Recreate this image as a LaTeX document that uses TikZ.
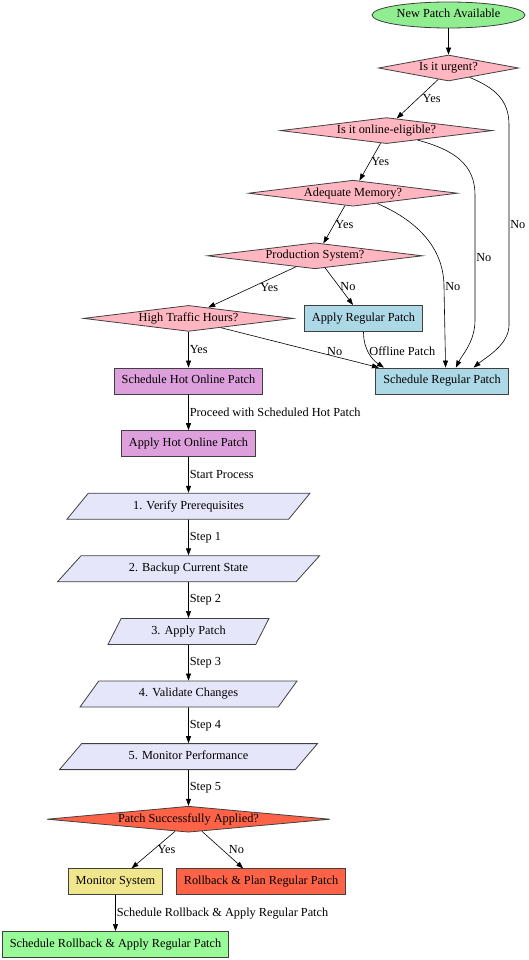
\documentclass[tikz,border=0pt]{standalone}
\usepackage{fontspec}
\setmainfont{Liberation Serif}
\usetikzlibrary{shapes.geometric,arrows.meta,positioning}
\definecolor{lgreen}{HTML}{90EE90}
\definecolor{lpink}{HTML}{FFB6C1}
\definecolor{lblue}{HTML}{ADD8E6}
\definecolor{lplum}{HTML}{DDA0DD}
\definecolor{lav}{HTML}{E6E6FA}
\definecolor{ltomato}{HTML}{FF6347}
\definecolor{lkhaki}{HTML}{F0E68C}
\definecolor{pgreen}{HTML}{98FB98}

\begin{document}
\begin{tikzpicture}[x=1pt,y=1pt,node distance=62.6pt]
    \tikzset{every node/.style={font=\fontsize{12.3}{14}\selectfont},
        box/.style={draw=black!75,line width=0.8pt,minimum height=26pt,inner
        sep=0pt,text height=8.5pt,text depth=2.6pt},term/.style={box,ellipse,fill=lgreen,minimum
        width=153pt},quest/.style={box,diamond,fill=lpink},act/.style={box,rectangle,inner
        xsep=7.5pt},stage/.style 2 args={box,trapezium,trapezium left angle=#1,trapezium right
        angle=#2,trapezium stretches body,fill=lav},flow/.style={->,>={Triangle[length=7pt,width=5pt]},line
        width=0.6pt},lbl/.style={inner sep=1pt}}
    \useasboundingbox (0,0) rectangle (528,-960);

    \node[term] (start) at (448.5,-15) {New Patch Available};
    \node[quest,minimum width=140pt,aspect=5.4] (d1) [below of=start,node distance=53pt] {Is it urgent?};
    \node[quest,minimum width=212pt,aspect=8.15] (d2) [below of=d1,xshift=-62pt] {Is it online-eligible?};
    \node[quest,minimum width=209pt,aspect=8] (d3) [below of=d2,xshift=-33.5pt] {Adequate Memory?};
    \node[quest,minimum width=215pt,aspect=8.3] (d4) [below of=d3,xshift=-38pt] {Production System?};
    \node[quest,minimum width=210pt,aspect=8.1] (d5) [below of=d4,xshift=-126.5pt] {High Traffic Hours?};
    \node[act,fill=lblue] (arp) [below of=d4,xshift=48.5pt] {Apply Regular Patch};
    \node[act,fill=lblue] (srp) [below of=arp,xshift=78.5pt] {Schedule Regular Patch};
    \node[act,fill=lplum] (shop) [below of=d5] {Schedule Hot Online Patch};
    \node[act,fill=lplum] (ahop) [below of=shop] {Apply Hot Online Patch};
    \node[stage={27.5}{152.5},minimum width=243pt] (p1) [below of=ahop] {1. Verify Prerequisites};
    \node[stage={25.3}{154.7},minimum width=262pt] (p2) [below of=p1] {2. Backup Current State};
    \node[stage={40}{140},minimum width=161pt] (p3) [below of=p2] {3. Apply Patch};
    \node[stage={30.6}{149.4},minimum width=217pt] (p4) [below of=p3] {4. Validate Changes};
    \node[stage={26.6}{153.4},minimum width=258pt] (p5) [below of=p4] {5. Monitor Performance};
    \node[quest,minimum width=283pt,aspect=10.9,fill=ltomato] (d6) [below of=p5] {Patch Successfully Applied?};
    \node[act,fill=lkhaki] (ms) [below of=d6,xshift=-73pt] {Monitor System};
    \node[act,fill=ltomato] (rb) [below of=d6,xshift=72.5pt] {Rollback \& Plan Regular Patch};
    \node[act,fill=pgreen] (sra) [below of=ms] {Schedule Rollback \& Apply Regular Patch};

    \draw[flow] (start) -- (d1);
    \draw[flow] (d1.228) -- node[lbl,right,xshift=4pt] {Yes} (d2.50);
    \draw[flow] (d1.-24) .. controls (495,-88) and (509,-100) .. (509,-125) --
    node[lbl,right] {No} (509,-325) .. controls (509,-345) and (485,-358) .. (srp.23);
    \draw[flow] (d2.245) -- node[lbl,right] {Yes} (d3.63);
    \draw[flow] (d2.-17) .. controls (455,-150) and (475,-165) .. (475,-195) --
    node[lbl,right] {No} (475,-320) .. controls (475,-342) and (462,-355) .. (srp.44);
    \draw[flow] (d3.237) -- node[lbl,right] {Yes} (d4.56);
    \draw[flow] (d3.-23) .. controls (420,-222) and (444,-250) ..
    node[lbl,right,pos=1] {No} (444,-287) -- (srp.75);
    \draw[flow] (d4.210) -- node[lbl,right,xshift=7pt] {Yes} (d5.29);
    \draw[flow] (d4.310) -- node[lbl,right] {No} (arp.128);
    \draw[flow] (d5) -- node[lbl,right] {Yes} (shop);
    \draw[flow] (d5.-16) -- node[lbl,above,pos=0.72] {No} (srp.168);
    \draw[flow] (arp.south) .. controls +(0,-18) and +(-12,8) ..
    node[lbl,right,pos=0.45] {Offline Patch} (srp.167);

    \draw[flow] (shop) -- node[lbl,right] {Proceed with Scheduled Hot Patch} (ahop);
    \draw[flow] (ahop) -- node[lbl,right] {Start Process} (p1);
    \draw[flow] (p1) -- node[lbl,right] {Step 1} (p2);
    \draw[flow] (p2) -- node[lbl,right] {Step 2} (p3);
    \draw[flow] (p3) -- node[lbl,right] {Step 3} (p4);
    \draw[flow] (p4) -- node[lbl,right] {Step 4} (p5);
    \draw[flow] (p5) -- node[lbl,right] {Step 5} (d6);
    \draw[flow] (d6.222) -- node[lbl,right,xshift=3pt] {Yes} (ms.40);
    \draw[flow] (d6.-42) -- node[lbl,right,xshift=5pt] {No} (rb.143);
    \draw[flow] (ms) -- node[lbl,right] {Schedule Rollback \& Apply Regular Patch} (sra);

\end{tikzpicture}
\end{document}
